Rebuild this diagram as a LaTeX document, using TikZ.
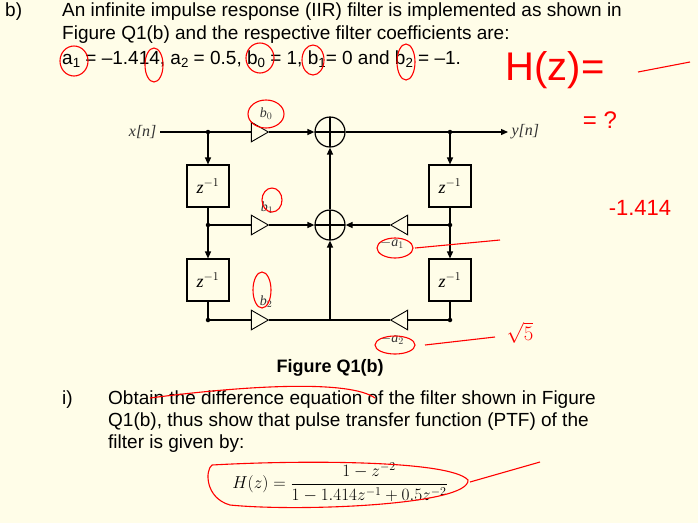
\documentclass[tikz,border=0pt]{standalone}
\usepackage{fontspec}
\setmainfont{Liberation Sans}
\newfontfamily\tms{Liberation Serif}
\usetikzlibrary{arrows.meta,shapes.geometric}
\definecolor{paper}{RGB}{255,253,232}
\newcommand{\sbx}[1]{\raisebox{-0.25ex}{\scalebox{0.7}{#1}}}
\begin{document}
\begin{tikzpicture}[x=1pt,y=-1pt,
  wire/.style={line width=1.3pt},
  arr/.style={wire,-{Triangle[length=7pt,width=6pt]}},
  dot/.style={circle,fill,inner sep=0pt,minimum size=4.5pt},
  dbox/.style={draw,line width=1.1pt,minimum width=42pt,minimum height=42pt,font=\tms\itshape\fontsize{18}{20}\selectfont},
  adder/.style={draw,circle,line width=1.2pt,minimum size=30pt,path picture={\draw[line width=1.2pt] (path picture bounding box.north) -- (path picture bounding box.south) (path picture bounding box.west) -- (path picture bounding box.east);}},
  gain/.style={draw,isosceles triangle,isosceles triangle apex angle=60,line width=0.9pt,inner sep=0pt,minimum height=17pt,minimum width=16pt},
  hand/.style={red,line width=1.1pt},
  lbl/.style={font=\tms\itshape\fontsize{14}{16}\selectfont,gray!40!black},
  txt/.style={anchor=west,font=\fontsize{19}{22}\selectfont,inner sep=0pt}]
\fill[paper] (0,0) rectangle (698,523);
% texts
\node[txt] (tb) at (5,12) {b)};
\node[txt] (t1) at (62,12) {An infinite impulse response (IIR) filter is implemented as shown in};
\node[txt] (t2) at (62,35) {Figure Q1(b) and the respective filter coefficients are:};
\node[txt] (t3) at (62,59) {a\sbx{1} = \textendash1.414, a\sbx{2} = 0.5, b\sbx{0} = 1, b\sbx{1}= 0 and b\sbx{2} = \textendash1.};
\node[font=\bfseries\fontsize{18}{20}\selectfont] (fig) at (330,368) {Figure Q1(b)};
\node[txt] (ti) at (62,400) {i)};
\node[txt] (p1) at (108,400) {Obtain the difference equation of the filter shown in Figure};
\node[txt] (p2) at (108,422) {Q1(b), thus show that pulse transfer function (PTF) of the};
\node[txt] (p3) at (108,444) {filter is given by:};
\node[font=\tms\fontsize{17}{20}\selectfont] (eq) at (340,482) {$H(z)=\displaystyle\frac{1-z^{-2}}{1-1.414z^{-1}+0.5z^{-2}}$};
% diagram
\node[lbl,anchor=east,font=\tms\itshape\fontsize{16}{18}\selectfont] (x) at (160,132) {x[n]};
\node[lbl,anchor=west,font=\tms\itshape\fontsize{16}{18}\selectfont] (y) at (508,132) {y[n]};
\node[dot] (L0) at (208,132) {};
\node[dot] (L1) at (208,225) {};
\node[dot] (L2) at (208,320) {};
\node[dot] (R0) at (450,132) {};
\node[dot] (R1) at (450,225) {};
\node[dot] (R2) at (450,320) {};
\node[dbox] (D1) at (208,186) {z$^{-1}$};
\node[dbox] (D2) at (208,280) {z$^{-1}$};
\node[dbox] (D3) at (450,186) {z$^{-1}$};
\node[dbox] (D4) at (450,280) {z$^{-1}$};
\node[adder] (A0) at (330,132) {};
\node[adder] (A1) at (330,225) {};
\node[gain] (g0) at (257,132) {};
\node[gain] (g1) at (257,225) {};
\node[gain] (g2) at (257,320) {};
\node[gain,shape border rotate=180] (g3) at (402,225) {};
\node[gain,shape border rotate=180] (g4) at (402,320) {};
\node[lbl] (lb0) at (266,114) {b$_0$};
\node[lbl] (lb1) at (267,208) {b$_1$};
\node[lbl] (lb2) at (266,302) {b$_2$};
\node[lbl] (la1) at (392,243) {$-$a$_1$};
\node[lbl] (la2) at (392,339) {$-$a$_2$};
\coordinate (M2) at (330,320);
\draw[wire] (x) -- (L0) -- (g0);
\draw[arr] (g0) -- (A0);
\draw[arr] (A0) -- (y.west);
\draw[arr] (L0) -- (D1);
\draw[wire] (D1) -- (L1) -- (g1);
\draw[arr] (g1) -- (A1);
\draw[arr] (L1) -- (D2);
\draw[wire] (D2) -- (L2) -- (g2) -- (M2) -- (g4);
\draw[wire] (g4) -- (R2) -- (D4);
\draw[arr] (M2) -- (A1);
\draw[arr] (A1) -- (A0);
\draw[arr] (R0) -- (D3);
\draw[wire] (D3) -- (R1) -- (g3);
\draw[arr] (g3) -- (A1);
\draw[arr] (R1) -- (D4);
% handwriting
\draw[hand] (74,61) ellipse (14 and 15);
\draw[hand] (154,65) ellipse (9 and 17);
\draw[hand] (260,58) ellipse (14 and 15);
\draw[hand] (313,60) ellipse (11 and 15);
\draw[hand] (406,62) ellipse (9 and 18);
\draw[hand] (266,114) ellipse (18 and 14);
\draw[hand] (272,200) ellipse (10 and 12);
\draw[hand] (262,290) ellipse (9 and 18);
\draw[hand] (395,248) ellipse (18 and 10);
\draw[hand] (395,345) ellipse (20 and 9);
\draw[hand] (415,248) -- (500,240);
\draw[hand] (425,345) -- (495,337);
\node[red,font=\fontsize{40}{40}\selectfont] (hz) at (555,70) {H(z)=};
\draw[hand] (638,72) -- (690,62);
\node[red,font=\fontsize{24}{24}\selectfont] (q) at (600,120) {= ?};
\node[red,font=\fontsize{22}{22}\selectfont] (v1) at (640,208) {-1.414};
\node[red,font=\fontsize{20}{20}\selectfont] (v2) at (520,333) {$\sqrt{5}$};
\draw[hand] (150,398) .. controls (250,385) and (350,380) .. (375,398);
\draw[hand] (212,465) .. controls (300,460) and (450,460) .. (468,480) .. controls (470,505) and (300,512) .. (230,505) .. controls (205,498) and (205,470) .. (212,465);
\draw[hand] (470,482) -- (540,462);
\end{tikzpicture}
\end{document}
